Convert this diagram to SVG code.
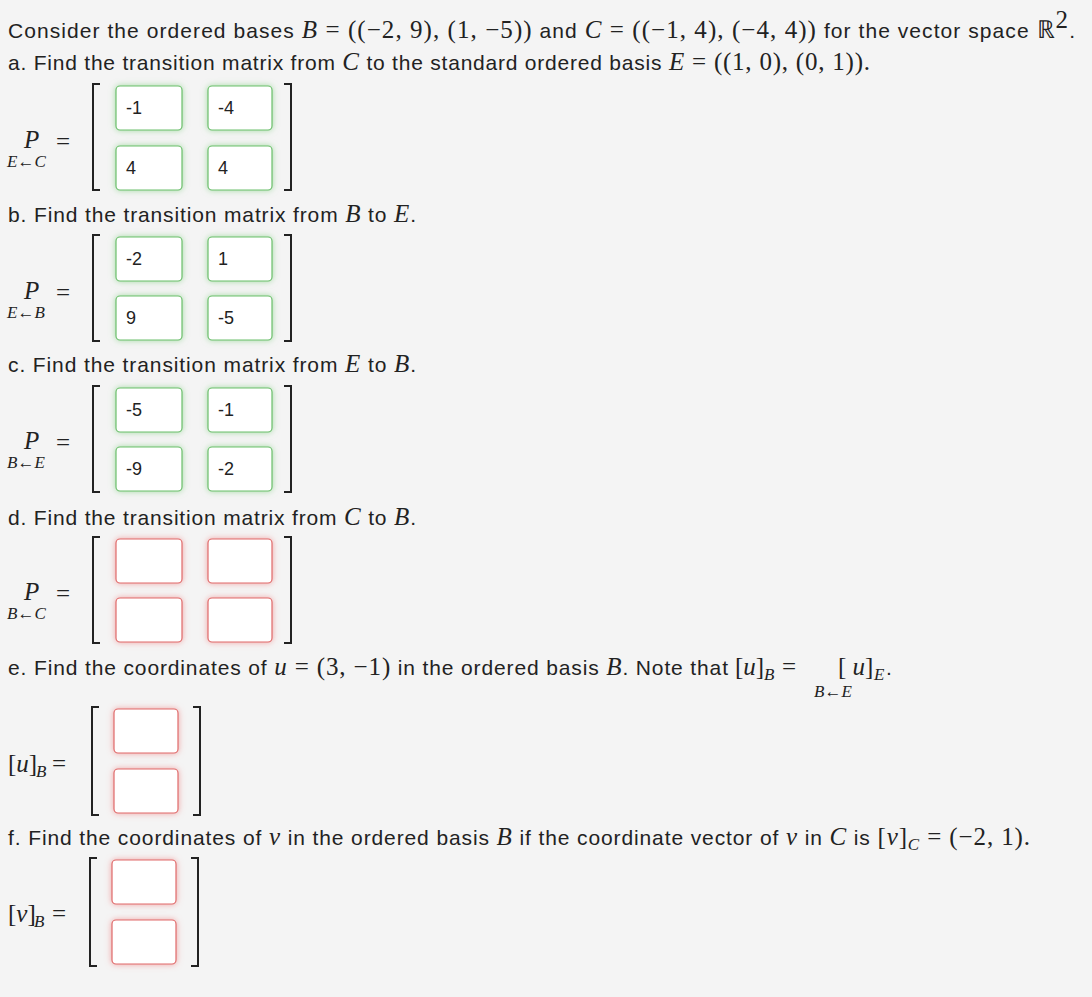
<svg xmlns="http://www.w3.org/2000/svg" width="1092" height="997" viewBox="0 0 1092 997">
<defs>
<style>
.t{font-family:"Liberation Sans",Arial,sans-serif;font-size:21px;fill:#222}
.m{font-family:"Liberation Serif","Times New Roman",serif;font-size:25px;fill:#222}
.i{font-style:italic}
.s{font-family:"Liberation Serif",serif;font-size:17px;font-style:italic;fill:#222}
.v{font-family:"Liberation Sans",Arial,sans-serif;font-size:18px;fill:#222}
.g{fill:#fff;stroke:#6cbf6c;stroke-width:1.2}
.r{fill:#fff;stroke:#e06a6a;stroke-width:1.2}
.br{fill:none;stroke:#222;stroke-width:2}
</style>
<filter id="gg" x="-30%" y="-30%" width="160%" height="160%"><feDropShadow dx="0" dy="0" stdDeviation="3" flood-color="#7fcf7f" flood-opacity="0.7"/></filter>
<filter id="rg" x="-30%" y="-30%" width="160%" height="160%"><feDropShadow dx="0" dy="0" stdDeviation="3" flood-color="#f08080" flood-opacity="0.7"/></filter>
</defs>
<rect width="1092" height="997" fill="#f4f4f4"/>
<text x="8" y="38" class="t" textLength="1067" lengthAdjust="spacing">Consider the ordered bases <tspan class="m i">B</tspan><tspan class="m"> = ((−2, 9), (1, −5))</tspan> and <tspan class="m i">C</tspan><tspan class="m"> = ((−1, 4), (−4, 4))</tspan> for the vector space <tspan class="m">ℝ</tspan><tspan class="m" font-size="14" dy="-10">2</tspan><tspan dy="10">.</tspan></text>
<text x="8" y="70" class="t" textLength="862" lengthAdjust="spacing">a. Find the transition matrix from <tspan class="m i">C</tspan> to the standard ordered basis <tspan class="m i">E</tspan><tspan class="m"> = ((1, 0), (0, 1)).</tspan></text>
<g id="matA">
<text x="24" y="148" class="m i">P</text><text x="56" y="150" class="m">=</text><text x="7" y="167" class="s">E←C</text>
<path class="br" d="M100 84H93V190H100M284 84H291V190H284"/>
<rect class="g" filter="url(#gg)" x="116" y="86" width="66" height="44" rx="4"/><text x="126" y="114" class="v">-1</text>
<rect class="g" filter="url(#gg)" x="208" y="86" width="64" height="44" rx="4"/><text x="218" y="114" class="v">-4</text>
<rect class="g" filter="url(#gg)" x="116" y="146" width="66" height="44" rx="4"/><text x="126" y="174" class="v">4</text>
<rect class="g" filter="url(#gg)" x="208" y="146" width="64" height="44" rx="4"/><text x="218" y="174" class="v">4</text>
</g>
<text x="8" y="222" class="t" textLength="408" lengthAdjust="spacing">b. Find the transition matrix from <tspan class="m i">B</tspan> to <tspan class="m i">E</tspan>.</text>
<g id="matB">
<text x="24" y="299" class="m i">P</text><text x="56" y="301" class="m">=</text><text x="7" y="318" class="s">E←B</text>
<path class="br" d="M100 235H93V341H100M284 235H291V341H284"/>
<rect class="g" filter="url(#gg)" x="116" y="237" width="66" height="44" rx="4"/><text x="126" y="265" class="v">-2</text>
<rect class="g" filter="url(#gg)" x="208" y="237" width="64" height="44" rx="4"/><text x="218" y="265" class="v">1</text>
<rect class="g" filter="url(#gg)" x="116" y="296" width="66" height="44" rx="4"/><text x="126" y="324" class="v">9</text>
<rect class="g" filter="url(#gg)" x="208" y="296" width="64" height="44" rx="4"/><text x="218" y="324" class="v">-5</text>
</g>
<text x="8" y="372" class="t" textLength="408" lengthAdjust="spacing">c. Find the transition matrix from <tspan class="m i">E</tspan> to <tspan class="m i">B</tspan>.</text>
<g id="matC">
<text x="24" y="449" class="m i">P</text><text x="56" y="451" class="m">=</text><text x="7" y="468" class="s">B←E</text>
<path class="br" d="M100 386H93V492H100M284 386H291V492H284"/>
<rect class="g" filter="url(#gg)" x="116" y="388" width="66" height="44" rx="4"/><text x="126" y="416" class="v">-5</text>
<rect class="g" filter="url(#gg)" x="208" y="388" width="64" height="44" rx="4"/><text x="218" y="416" class="v">-1</text>
<rect class="g" filter="url(#gg)" x="116" y="447" width="66" height="44" rx="4"/><text x="126" y="475" class="v">-9</text>
<rect class="g" filter="url(#gg)" x="208" y="447" width="64" height="44" rx="4"/><text x="218" y="475" class="v">-2</text>
</g>
<text x="8" y="525" class="t" textLength="408" lengthAdjust="spacing">d. Find the transition matrix from <tspan class="m i">C</tspan> to <tspan class="m i">B</tspan>.</text>
<g id="matD">
<text x="24" y="600" class="m i">P</text><text x="56" y="602" class="m">=</text><text x="7" y="619" class="s">B←C</text>
<path class="br" d="M100 537H93V643H100M284 537H291V643H284"/>
<rect class="r" filter="url(#rg)" x="116" y="539" width="66" height="44" rx="4"/>
<rect class="r" filter="url(#rg)" x="208" y="539" width="64" height="44" rx="4"/>
<rect class="r" filter="url(#rg)" x="116" y="598" width="66" height="44" rx="4"/>
<rect class="r" filter="url(#rg)" x="208" y="598" width="64" height="44" rx="4"/>
</g>
<text x="8" y="675" class="t" textLength="720" lengthAdjust="spacing">e. Find the coordinates of <tspan class="m i">u</tspan><tspan class="m"> = (3, −1)</tspan> in the ordered basis <tspan class="m i">B</tspan>. Note that</text>
<text x="735" y="675" class="m">[<tspan class="i">u</tspan>]</text><text x="764" y="680" class="s">B</text><text x="782" y="675" class="m">=</text>
<text x="838" y="675" class="m">[  <tspan class="i">u</tspan>]</text><text x="874" y="680" class="s">E</text><text x="886" y="675" class="t">.</text>
<text x="814" y="697" class="s">B←E</text>
<g id="vecU">
<text x="8" y="772" class="m">[<tspan class="i">u</tspan>]</text><text x="36" y="777" class="s">B</text><text x="52" y="772" class="m">=</text>
<path class="br" d="M99 707H92V815H99M193 707H200V815H193"/>
<rect class="r" filter="url(#rg)" x="114" y="709" width="64" height="44" rx="4"/>
<rect class="r" filter="url(#rg)" x="114" y="769" width="64" height="44" rx="4"/>
</g>
<text x="8" y="845" class="t" textLength="1022" lengthAdjust="spacing">f. Find the coordinates of <tspan class="m i">v</tspan> in the ordered basis <tspan class="m i">B</tspan> if the coordinate vector of <tspan class="m i">v</tspan> in <tspan class="m i">C</tspan> is <tspan class="m">[</tspan><tspan class="m i">v</tspan><tspan class="m">]</tspan><tspan class="s" dy="5">C</tspan><tspan class="m" dy="-5"> = (−2, 1).</tspan></text>
<g id="vecV">
<text x="8" y="922" class="m">[<tspan class="i">v</tspan>]</text><text x="34" y="927" class="s">B</text><text x="52" y="922" class="m">=</text>
<path class="br" d="M97 858H90V966H97M191 858H198V966H191"/>
<rect class="r" filter="url(#rg)" x="112" y="860" width="64" height="44" rx="4"/>
<rect class="r" filter="url(#rg)" x="112" y="920" width="64" height="44" rx="4"/>
</g>
</svg>
